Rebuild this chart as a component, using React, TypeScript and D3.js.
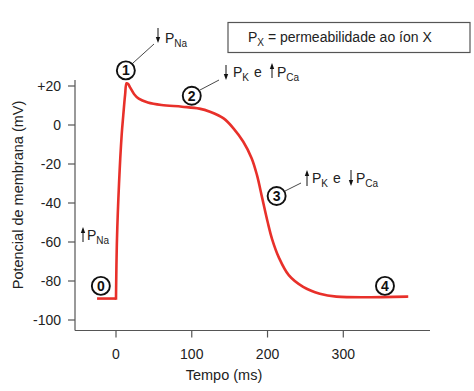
import React from "react";
import * as d3 from "d3";

const timeMs = [-25, 0, 1.3, 4, 7.5, 9.6, 12, 14, 16, 19, 24, 30, 42, 60, 87, 110, 124, 142, 155, 168, 179, 186, 193, 200, 206, 215, 228, 247, 269, 291, 384];
const voltage = [-89, -89, -58.5, -30, -5, 5, 15.4, 21.4, 21, 19, 15.8, 13.5, 11.6, 10.3, 9.4, 8.4, 6.8, 3.4, -1.7, -8.6, -17, -25.6, -37.5, -49.5, -58.5, -68, -77, -83, -86.5, -88, -88];
const xTicks = [0, 100, 200, 300];
const yTicks = [20, 0, -20, -40, -60, -80, -100];
const yTickLabels = ["+20", "0", "-20", "-40", "-60", "-80", "-100"];
const phaseLabels = ["0", "1", "2", "3", "4"];
const phaseAnchors: [number, number][] = [[-20, -82.5], [13, 28], [100, 15], [212, -36.4], [355, -82.5]];

const FONT = "'Liberation Sans', Arial, Helvetica, sans-serif";

export default function App() {
  const x = d3.scaleLinear().domain([0, 300]).range([116, 343.3]);
  const y = d3.scaleLinear().domain([-100, 20]).range([320, 86]);
  const pts: [number, number][] = timeMs.map((t, i) => [t, voltage[i]]);
  const lin = d3
    .line<[number, number]>()
    .x((d) => x(d[0]))
    .y((d) => y(d[1]));
  const smooth = d3
    .line<[number, number]>()
    .x((d) => x(d[0]))
    .y((d) => y(d[1]))
    .curve(d3.curveCatmullRom.alpha(0.5));

  const axisX0 = 75;
  const axisY0 = 330.5;

  const Sub = ({ main, sub }: { main: string; sub: string }) => (
    <>
      <tspan>{main}</tspan>
      <tspan fontSize={10} dy={4}>{sub}</tspan>
      <tspan dy={-4}>{"\u200A"}</tspan>
    </>
  );

  const Arrow = ({ cx, y1, y2 }: { cx: number; y1: number; y2: number }) => {
    const up = y2 < y1;
    const tip = y2;
    const hd = up ? 6 : -6;
    return (
      <g>
        <line x1={cx} y1={y1} x2={cx} y2={tip + hd * 0.6} stroke="#111" strokeWidth={1} />
        <path d={`M${cx - 2.2},${tip + hd} L${cx + 2.2},${tip + hd} L${cx},${tip} Z`} fill="#111" />
      </g>
    );
  };

  return (
    <svg
      width={474}
      height={391}
      style={{ position: "fixed", left: 0, top: 0, background: "#fff" }}
      fontFamily={FONT}
    >
      <rect width={474} height={391} fill="#fff" />
      {/* axes */}
      <line x1={axisX0} y1={80} x2={axisX0} y2={axisY0} stroke="#555" strokeWidth={1.2} />
      <line x1={axisX0} y1={axisY0} x2={430} y2={axisY0} stroke="#555" strokeWidth={1.2} />
      {yTicks.map((v, i) => (
        <g key={v}>
          <line x1={axisX0 - 7} x2={axisX0} y1={y(v)} y2={y(v)} stroke="#555" strokeWidth={1.2} />
          <text x={61} y={y(v)} dy="0.35em" textAnchor="end" fontSize={14} fill="#222">
            {yTickLabels[i]}
          </text>
        </g>
      ))}
      {xTicks.map((v) => (
        <g key={v}>
          <line x1={x(v)} x2={x(v)} y1={axisY0} y2={axisY0 + 7} stroke="#555" strokeWidth={1.2} />
          <text x={x(v)} y={354} dy="0.35em" textAnchor="middle" fontSize={14} fill="#222">
            {v}
          </text>
        </g>
      ))}
      <text x={224} y={375} dy="0.35em" textAnchor="middle" fontSize={14.5} fill="#222">
        Tempo (ms)
      </text>
      <text
        transform="translate(18,195) rotate(-90)"
        textAnchor="middle"
        dy="0.35em"
        fontSize={14.5}
        fill="#222"
      >
        Potencial de membrana (mV)
      </text>

      {/* curve */}
      <path d={lin(pts.slice(0, 2)) || ""} fill="none" stroke="#e8302a" strokeWidth={2.6} strokeLinecap="butt" />
      <path d={smooth(pts.slice(1)) || ""} fill="none" stroke="#e8302a" strokeWidth={2.6} strokeLinejoin="round" strokeLinecap="square" />

      {/* leader lines */}
      <line x1={133} y1={63} x2={154} y2={44} stroke="#333" strokeWidth={0.9} />
      <line x1={200} y1={90} x2={219} y2={80} stroke="#333" strokeWidth={0.9} />
      <line x1={285} y1={191} x2={301} y2={183} stroke="#333" strokeWidth={0.9} />

      {/* phase circles */}
      {phaseLabels.map((lab, i) => {
        const cx = x(phaseAnchors[i][0]);
        const cy = y(phaseAnchors[i][1]);
        return (
          <g key={lab}>
            <circle cx={cx} cy={cy} r={9} fill="#fff" stroke="#111" strokeWidth={1.9} />
            <text x={cx} y={cy} dy="0.36em" textAnchor="middle" fontSize={14} fontWeight="bold" fill="#111">
              {lab}
            </text>
          </g>
        );
      })}

      {/* annotations */}
      <Arrow cx={158} y1={28} y2={43} />
      <text x={165} y={43} fontSize={14} fill="#222">
        <Sub main="P" sub="Na" />
      </text>

      <Arrow cx={226} y1={65} y2={80} />
      <text x={233} y={77} fontSize={14} fill="#222">
        <Sub main="P" sub="K" />
        <tspan> e </tspan>
      </text>
      <Arrow cx={272} y1={78} y2={63} />
      <text x={277} y={77} fontSize={14} fill="#222">
        <Sub main="P" sub="Ca" />
      </text>

      <Arrow cx={307} y1={186} y2={170} />
      <text x={312} y={183} fontSize={14} fill="#222">
        <Sub main="P" sub="K" />
        <tspan> e </tspan>
      </text>
      <Arrow cx={351} y1={170} y2={186} />
      <text x={356} y={183} fontSize={14} fill="#222">
        <Sub main="P" sub="Ca" />
      </text>

      <Arrow cx={83} y1={242} y2={227} />
      <text x={87} y={240} fontSize={14} fill="#222">
        <Sub main="P" sub="Na" />
      </text>

      {/* legend box */}
      <rect x={228} y={22.5} width={242} height={30} fill="#fff" stroke="#555" strokeWidth={1.2} />
      <text x={248} y={42} fontSize={14} fill="#222">
        <tspan>P</tspan>
        <tspan fontSize={10} dy={4}>X</tspan>
        <tspan dy={-4}> = permeabilidade ao íon X</tspan>
      </text>
    </svg>
  );
}
